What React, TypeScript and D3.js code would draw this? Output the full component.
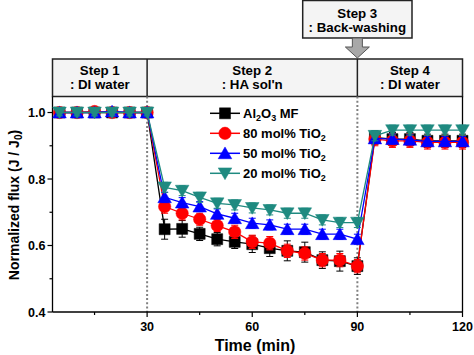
import React from "react";
import * as d3 from "d3";

const times = [5, 10, 15, 20, 25, 30, 35, 40, 45, 50, 55, 60, 65, 70, 75, 80, 85, 90, 95, 100, 105, 110, 115, 120];

const alumina = [1.0, 1.0, 1.0, 1.0, 1.0, 1.0, 0.649, 0.65, 0.635, 0.619, 0.611, 0.604, 0.592, 0.584, 0.58, 0.556, 0.553, 0.538, 0.925, 0.92, 0.92, 0.915, 0.915, 0.915];
const aluminaErr = [0.01, 0.01, 0.01, 0.01, 0.01, 0.01, 0.03, 0.025, 0.02, 0.02, 0.02, 0.025, 0.025, 0.03, 0.03, 0.025, 0.03, 0.025, 0.02, 0.02, 0.02, 0.02, 0.02, 0.02];

const tio80 = [1.0, 1.0, 1.003, 1.0, 1.0, 1.0, 0.717, 0.697, 0.679, 0.66, 0.641, 0.611, 0.607, 0.584, 0.576, 0.556, 0.556, 0.538, 0.92, 0.915, 0.915, 0.91, 0.91, 0.91];
const tio80Err = [0.01, 0.01, 0.01, 0.01, 0.01, 0.01, 0.02, 0.02, 0.018, 0.018, 0.02, 0.02, 0.02, 0.02, 0.02, 0.02, 0.02, 0.02, 0.02, 0.02, 0.02, 0.02, 0.02, 0.02];

const tio50 = [1.0, 1.0, 1.0, 1.003, 1.0, 1.0, 0.745, 0.729, 0.717, 0.695, 0.682, 0.667, 0.662, 0.649, 0.649, 0.634, 0.634, 0.619, 0.922, 0.92, 0.918, 0.913, 0.913, 0.913];
const tio50Err = [0.012, 0.012, 0.01, 0.012, 0.01, 0.01, 0.015, 0.015, 0.015, 0.015, 0.015, 0.015, 0.015, 0.015, 0.015, 0.015, 0.015, 0.015, 0.015, 0.015, 0.015, 0.015, 0.015, 0.015];

const tio20 = [1.0, 1.0, 1.0, 1.0, 1.0, 1.0, 0.775, 0.765, 0.745, 0.727, 0.722, 0.713, 0.707, 0.697, 0.697, 0.677, 0.669, 0.669, 0.93, 0.947, 0.947, 0.947, 0.947, 0.947];
const tio20Err = [0.01, 0.01, 0.01, 0.01, 0.01, 0.01, 0.015, 0.015, 0.015, 0.015, 0.015, 0.015, 0.015, 0.015, 0.015, 0.015, 0.015, 0.015, 0.015, 0.015, 0.015, 0.015, 0.015, 0.015];

const xTickLabels = [30, 60, 90, 120];
const xMinorTicks = [15, 45, 75, 105];
const yTickLabels = [0.4, 0.6, 0.8, 1.0];
const yMinorTicks = [0.5, 0.7, 0.9];
const stepBounds = [30, 90];

const FONT = "'Liberation Sans', Arial, sans-serif";

const series = [
  { key: "al", values: alumina, err: aluminaErr, color: "#000000", shape: "square" },
  { key: "80", values: tio80, err: tio80Err, color: "#ff0000", shape: "circle" },
  { key: "50", values: tio50, err: tio50Err, color: "#0000ff", shape: "up" },
  { key: "20", values: tio20, err: tio20Err, color: "#1f8a80", shape: "down" },
];

function symbolPath(shape: string): { d: string; rot: number } {
  if (shape === "square") return { d: d3.symbol(d3.symbolSquare, 121)() as string, rot: 0 };
  if (shape === "circle") return { d: d3.symbol(d3.symbolCircle, 120)() as string, rot: 0 };
  if (shape === "up") return { d: d3.symbol(d3.symbolTriangle, 80)() as string, rot: 0 };
  return { d: d3.symbol(d3.symbolTriangle, 80)() as string, rot: 180 };
}

export default function App() {
  const x = d3.scaleLinear().domain([3, 120]).range([52.5, 462.5]);
  const y = d3.scaleLinear().domain([0.4, 1.05]).range([312, 95.9]);
  const top = 96.5;
  const bottom = 312;
  const left = x(3);
  const right = x(120);

  const line = d3
    .line<number>()
    .x((_, i) => x(times[i]))
    .y((v) => y(v));

  const legendRows = [
    { s: series[0], label: <>Al<tspan fontSize={9} dy={3}>2</tspan><tspan dy={-3}>O</tspan><tspan fontSize={9} dy={3}>3</tspan><tspan dy={-3}> MF</tspan></> },
    { s: series[1], label: <>80 mol% TiO<tspan fontSize={9} dy={3}>2</tspan></> },
    { s: series[2], label: <>50 mol% TiO<tspan fontSize={9} dy={3}>2</tspan></> },
    { s: series[3], label: <>20 mol% TiO<tspan fontSize={9} dy={3}>2</tspan></> },
  ];

  const headerTop = 59;
  const sectionEdges = [3, ...stepBounds, 120];
  const headerTexts = [
    ["Step 1", ": DI water"],
    ["Step 2", ": HA sol'n"],
    ["Step 4", ": DI water"],
  ];

  const ax = x(90);

  return (
    <svg width={474} height={355} style={{ position: "absolute", left: 0, top: 0, background: "#fff" }} fontFamily={FONT} fontWeight="bold">
      {/* Step 3 box */}
      <rect x={302.7} y={0.5} width={109.3} height={37.5} fill="#f4f4f4" stroke="#222" strokeWidth={1.5} />
      <text x={357.3} y={18} textAnchor="middle" fontSize={13.3}>Step 3</text>
      <text x={357.3} y={32} textAnchor="middle" fontSize={13.3}>: Back-washing</text>
      <polygon
        points={`${ax - 5},38 ${ax + 5},38 ${ax + 5},47 ${ax + 12},47 ${ax},58 ${ax - 12},47 ${ax - 5},47`}
        fill="#a8a8a8"
        stroke="#555"
        strokeWidth={1}
      />

      {/* Header row */}
      <rect x={left} y={headerTop} width={right - left} height={top - headerTop} fill="#f4f4f4" stroke="#222" strokeWidth={1.5} />
      {stepBounds.map((b) => (
        <line key={b} x1={x(b)} x2={x(b)} y1={headerTop} y2={top} stroke="#222" strokeWidth={1.5} />
      ))}
      {headerTexts.map((t, i) => {
        const cx = (x(sectionEdges[i]) + x(sectionEdges[i + 1])) / 2;
        return (
          <g key={i}>
            <text x={cx} y={74.5} textAnchor="middle" fontSize={13.3}>{t[0]}</text>
            <text x={cx} y={89} textAnchor="middle" fontSize={13.3}>{t[1]}</text>
          </g>
        );
      })}

      {/* Dotted dividers */}
      {stepBounds.map((b) => (
        <line key={"d" + b} x1={x(b)} x2={x(b)} y1={top} y2={bottom} stroke="#808080" strokeWidth={2} strokeDasharray="2,2.2" />
      ))}

      {/* Frame */}
      <line x1={left} x2={left} y1={top} y2={bottom} stroke="#000" strokeWidth={1.3} />
      <line x1={right} x2={right} y1={top} y2={bottom} stroke="#000" strokeWidth={1.3} />
      <line x1={left} x2={right} y1={bottom} y2={bottom} stroke="#000" strokeWidth={1.3} />

      {/* Y ticks */}
      {yTickLabels.map((v) => (
        <g key={v}>
          <line x1={left - 5} x2={left} y1={y(v)} y2={y(v)} stroke="#000" strokeWidth={1.2} />
          <text x={left - 7} y={y(v) + 4.5} textAnchor="end" fontSize={12.5}>{v.toFixed(1)}</text>
        </g>
      ))}
      {yMinorTicks.map((v) => (
        <line key={v} x1={left - 3} x2={left} y1={y(v)} y2={y(v)} stroke="#000" strokeWidth={1.2} />
      ))}
      {/* X ticks */}
      {xTickLabels.map((v) => (
        <g key={v}>
          <line x1={x(v)} x2={x(v)} y1={bottom} y2={bottom + 5} stroke="#000" strokeWidth={1.2} />
          <text x={x(v)} y={bottom + 19} textAnchor="middle" fontSize={12.5}>{v}</text>
        </g>
      ))}
      {xMinorTicks.map((v) => (
        <line key={v} x1={x(v)} x2={x(v)} y1={bottom} y2={bottom + 3} stroke="#000" strokeWidth={1.2} />
      ))}

      {/* Axis titles */}
      <text x={255} y={351} textAnchor="middle" fontSize={16}>Time (min)</text>
      <text transform="translate(19,205) rotate(-90)" textAnchor="middle" fontSize={14}>
        Normalized flux (J / J<tspan fontSize={10} dy={3}>0</tspan><tspan dy={-3}>)</tspan>
      </text>

      {/* Series */}
      {series.map((s) => {
        const sym = symbolPath(s.shape);
        return (
          <g key={s.key}>
            <path d={line(s.values) as string} fill="none" stroke={s.color} strokeWidth={1.3} />
            {s.values.map((v, i) => {
              const cx = x(times[i]);
              const y1 = y(v + s.err[i]);
              const y2 = y(v - s.err[i]);
              return (
                <g key={i} stroke={s.color} strokeWidth={1}>
                  <line x1={cx} x2={cx} y1={y1} y2={y2} />
                  <line x1={cx - 3.5} x2={cx + 3.5} y1={y1} y2={y1} />
                  <line x1={cx - 3.5} x2={cx + 3.5} y1={y2} y2={y2} />
                </g>
              );
            })}
            {s.values.map((v, i) => (
              <path
                key={"m" + i}
                d={sym.d}
                transform={`translate(${x(times[i])},${y(v) + (s.shape === "up" ? 1.5 : s.shape === "down" ? -1.5 : 0)}) rotate(${sym.rot})`}
                fill={s.color}
                stroke={s.color}
                strokeWidth={0.5}
              />
            ))}
          </g>
        );
      })}

      {/* Legend */}
      {legendRows.map((r, i) => {
        const ly = 113.3 + i * 20;
        const sym = symbolPath(r.s.shape);
        return (
          <g key={i}>
            <line x1={210} x2={240} y1={ly} y2={ly} stroke={r.s.color} strokeWidth={1.5} />
            <path
              d={sym.d}
              transform={`translate(225,${ly + (r.s.shape === "up" ? 1.5 : r.s.shape === "down" ? -1.5 : 0)}) rotate(${sym.rot})`}
              fill={r.s.color}
              stroke={r.s.color}
              strokeWidth={0.5}
            />
            <text x={243} y={ly + 4.5} fontSize={13}>{r.label}</text>
          </g>
        );
      })}
    </svg>
  );
}
